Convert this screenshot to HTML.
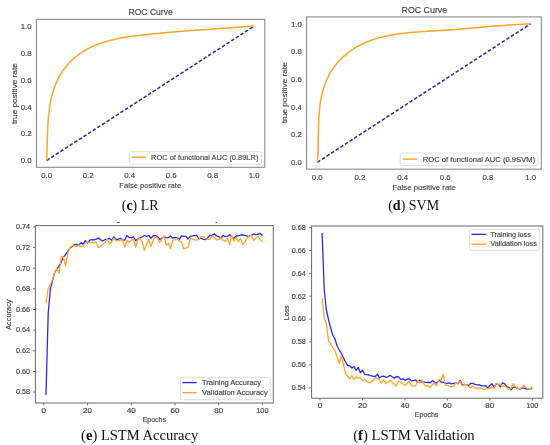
<!DOCTYPE html>
<html><head><meta charset="utf-8"><style>
html,body{margin:0;padding:0;background:#fff;}
body{width:550px;height:445px;overflow:hidden;}
svg{display:block;will-change:transform;}
</style></head><body>
<svg width="550" height="445" viewBox="0 0 550 445">
<defs><filter id="bl" x="0" y="0" width="550" height="445" filterUnits="userSpaceOnUse"><feGaussianBlur stdDeviation="0.3"/></filter></defs>
<rect width="550" height="445" fill="#fff"/>
<g filter="url(#bl)">
<rect x="36.5" y="19.4" width="228.3" height="147.9" fill="none" stroke="#8a8a8a" stroke-width="1.1"/>
<line x1="46.6" y1="160.6" x2="254.1" y2="26.099999999999994" stroke="#2626aa" stroke-width="1.5" stroke-dasharray="3.5,2.0"/>
<polyline points="46.60,160.60 46.67,159.55 46.73,158.49 46.78,157.43 46.84,156.35 46.89,155.28 46.93,154.19 46.97,153.10 47.01,152.00 47.05,150.90 47.09,149.79 47.12,148.68 47.15,147.56 47.18,146.44 47.21,145.31 47.24,144.17 47.27,143.04 47.29,141.90 47.32,140.75 47.35,139.60 47.38,138.45 47.41,137.30 47.44,136.14 47.48,134.98 47.51,133.82 47.55,132.65 47.60,131.48 47.64,130.31 47.69,129.14 47.74,127.97 47.80,126.80 47.86,125.63 47.92,124.45 47.99,123.28 48.06,122.10 48.14,120.93 48.23,119.76 48.32,118.58 48.42,117.41 48.53,116.24 48.64,115.07 48.76,113.90 48.89,112.73 49.02,111.56 49.17,110.40 49.32,109.24 49.48,108.08 49.65,106.92 49.83,105.77 50.02,104.62 50.23,103.47 50.44,102.33 50.66,101.19 50.89,100.06 51.14,98.93 51.39,97.80 51.66,96.68 51.94,95.56 52.24,94.45 52.54,93.35 52.86,92.25 53.20,91.15 53.54,90.07 53.90,88.99 54.27,87.91 54.66,86.84 55.06,85.78 55.48,84.73 55.91,83.68 56.35,82.65 56.81,81.61 57.28,80.59 57.77,79.58 58.27,78.57 58.79,77.58 59.32,76.59 59.87,75.61 60.44,74.64 61.01,73.69 61.61,72.74 62.22,71.80 62.85,70.87 63.49,69.95 64.14,69.05 64.82,68.15 65.50,67.27 66.20,66.40 66.92,65.54 67.64,64.69 68.39,63.85 69.14,63.03 69.91,62.22 70.69,61.42 71.48,60.63 72.29,59.86 73.10,59.10 73.93,58.36 74.77,57.63 75.62,56.91 76.49,56.21 77.36,55.52 78.24,54.85 79.13,54.19 80.04,53.55 80.95,52.93 81.87,52.31 82.80,51.72 83.74,51.13 84.69,50.56 85.64,50.01 86.61,49.47 87.58,48.94 88.57,48.42 89.56,47.92 90.56,47.43 91.56,46.95 92.57,46.49 93.59,46.03 94.62,45.59 95.66,45.16 96.70,44.75 97.74,44.34 98.80,43.95 99.86,43.56 100.93,43.19 102.00,42.82 103.08,42.47 104.16,42.13 105.25,41.79 106.34,41.47 107.44,41.16 108.54,40.85 109.65,40.56 110.76,40.27 111.88,39.99 113.00,39.72 114.13,39.46 115.25,39.20 116.39,38.95 117.52,38.71 118.66,38.48 119.80,38.26 120.94,38.04 122.09,37.83 123.24,37.62 124.39,37.42 125.55,37.23 126.70,37.04 127.86,36.86 129.02,36.68 130.18,36.51 131.34,36.34 132.50,36.18 133.66,36.02 134.83,35.87 135.99,35.72 137.16,35.58 138.32,35.43 139.49,35.30 140.65,35.16 141.82,35.03 142.98,34.90 144.14,34.77 145.30,34.65 146.47,34.53 147.62,34.40 148.78,34.29 149.94,34.17 151.09,34.05 152.25,33.94 153.40,33.83 154.55,33.71 155.69,33.60 156.84,33.49 157.98,33.38 159.13,33.28 160.27,33.17 161.41,33.06 162.54,32.96 163.68,32.85 164.82,32.75 165.95,32.65 167.08,32.55 168.21,32.45 169.34,32.35 170.47,32.25 171.60,32.16 172.73,32.06 173.85,31.97 174.98,31.87 176.10,31.78 177.23,31.68 178.35,31.59 179.47,31.50 180.59,31.41 181.71,31.32 182.83,31.23 183.95,31.14 185.07,31.05 186.19,30.97 187.30,30.88 188.42,30.79 189.54,30.71 190.66,30.62 191.77,30.54 192.89,30.45 194.00,30.37 195.12,30.29 196.24,30.20 197.35,30.12 198.47,30.04 199.58,29.96 200.70,29.88 201.81,29.80 202.93,29.72 204.05,29.64 205.16,29.56 206.28,29.48 207.40,29.40 208.52,29.32 209.63,29.24 210.75,29.16 211.87,29.08 212.99,29.00 214.11,28.92 215.23,28.85 216.36,28.77 217.48,28.69 218.60,28.61 219.73,28.53 220.85,28.45 221.98,28.38 223.11,28.30 224.24,28.22 225.37,28.14 226.50,28.06 227.63,27.98 228.76,27.91 229.90,27.83 231.03,27.75 232.17,27.67 233.31,27.59 234.45,27.51 235.59,27.43 236.73,27.35 237.88,27.27 239.02,27.19 240.17,27.11 241.32,27.03 242.47,26.94 243.63,26.86 244.78,26.78 245.94,26.70 247.10,26.61 248.26,26.53 249.43,26.44 250.59,26.36 251.76,26.27 252.93,26.19 254.10,26.10" fill="none" stroke="#ffa626" stroke-width="1.5" stroke-linejoin="round"/>
<text x="150.60000000000002" y="15.3" font-size="8.9" text-anchor="middle" fill="#454545" font-family="Liberation Sans, sans-serif" stroke="#454545" stroke-width="0.16" textLength="44.2" lengthAdjust="spacingAndGlyphs" >ROC Curve</text>
<text x="31.6" y="163.29999999999998" font-size="8.1" text-anchor="end" fill="#454545" font-family="Liberation Sans, sans-serif" stroke="#454545" stroke-width="0.16" textLength="10.9" lengthAdjust="spacingAndGlyphs" >0.0</text>
<text x="31.6" y="136.39999999999998" font-size="8.1" text-anchor="end" fill="#454545" font-family="Liberation Sans, sans-serif" stroke="#454545" stroke-width="0.16" textLength="10.9" lengthAdjust="spacingAndGlyphs" >0.2</text>
<text x="31.6" y="109.49999999999999" font-size="8.1" text-anchor="end" fill="#454545" font-family="Liberation Sans, sans-serif" stroke="#454545" stroke-width="0.16" textLength="10.9" lengthAdjust="spacingAndGlyphs" >0.4</text>
<text x="31.6" y="82.59999999999998" font-size="8.1" text-anchor="end" fill="#454545" font-family="Liberation Sans, sans-serif" stroke="#454545" stroke-width="0.16" textLength="10.9" lengthAdjust="spacingAndGlyphs" >0.6</text>
<text x="31.6" y="55.69999999999999" font-size="8.1" text-anchor="end" fill="#454545" font-family="Liberation Sans, sans-serif" stroke="#454545" stroke-width="0.16" textLength="10.9" lengthAdjust="spacingAndGlyphs" >0.8</text>
<text x="31.6" y="28.799999999999994" font-size="8.1" text-anchor="end" fill="#454545" font-family="Liberation Sans, sans-serif" stroke="#454545" stroke-width="0.16" textLength="10.9" lengthAdjust="spacingAndGlyphs" >1.0</text>
<text x="46.6" y="177.5" font-size="8.1" text-anchor="middle" fill="#454545" font-family="Liberation Sans, sans-serif" stroke="#454545" stroke-width="0.16" textLength="10.9" lengthAdjust="spacingAndGlyphs" >0.0</text>
<text x="88.1" y="177.5" font-size="8.1" text-anchor="middle" fill="#454545" font-family="Liberation Sans, sans-serif" stroke="#454545" stroke-width="0.16" textLength="10.9" lengthAdjust="spacingAndGlyphs" >0.2</text>
<text x="129.6" y="177.5" font-size="8.1" text-anchor="middle" fill="#454545" font-family="Liberation Sans, sans-serif" stroke="#454545" stroke-width="0.16" textLength="10.9" lengthAdjust="spacingAndGlyphs" >0.4</text>
<text x="171.10000000000002" y="177.5" font-size="8.1" text-anchor="middle" fill="#454545" font-family="Liberation Sans, sans-serif" stroke="#454545" stroke-width="0.16" textLength="10.9" lengthAdjust="spacingAndGlyphs" >0.6</text>
<text x="212.6" y="177.5" font-size="8.1" text-anchor="middle" fill="#454545" font-family="Liberation Sans, sans-serif" stroke="#454545" stroke-width="0.16" textLength="10.9" lengthAdjust="spacingAndGlyphs" >0.8</text>
<text x="254.1" y="177.5" font-size="8.1" text-anchor="middle" fill="#454545" font-family="Liberation Sans, sans-serif" stroke="#454545" stroke-width="0.16" textLength="10.9" lengthAdjust="spacingAndGlyphs" >1.0</text>
<text x="150.25" y="187.5" font-size="8.0" text-anchor="middle" fill="#454545" font-family="Liberation Sans, sans-serif" stroke="#454545" stroke-width="0.16" textLength="61.9" lengthAdjust="spacingAndGlyphs" >False positive rate</text>
<text x="0" y="0" font-size="8.0" text-anchor="middle" fill="#454545" font-family="Liberation Sans, sans-serif" stroke="#454545" stroke-width="0.16" textLength="60.7" lengthAdjust="spacingAndGlyphs" transform="translate(17.099999999999998,93.6) rotate(-90)">true positive rate</text>
<rect x="129.3" y="151.6" width="132.09999999999997" height="12.700000000000017" rx="1.5" fill="#fff" stroke="#dcdcdc" stroke-width="0.9"/>
<line x1="131.6" y1="157.3" x2="145.9" y2="157.3" stroke="#ffa626" stroke-width="1.5"/>
<text x="151.1" y="160.0" font-size="8.0" text-anchor="start" fill="#454545" font-family="Liberation Sans, sans-serif" stroke="#454545" stroke-width="0.16" textLength="107.3" lengthAdjust="spacingAndGlyphs" >ROC of functional AUC (0.89LR)</text>
<text x="121.8" y="210.2" font-size="14.5" fill="#111" font-family="Liberation Serif, serif" textLength="36.7" lengthAdjust="spacingAndGlyphs">(<tspan font-weight="bold">c</tspan>) LR</text>
<rect x="306.6" y="16.9" width="234.69999999999993" height="152.29999999999998" fill="none" stroke="#8a8a8a" stroke-width="1.1"/>
<line x1="317.3" y1="162.3" x2="530.6" y2="23.80000000000001" stroke="#2626aa" stroke-width="1.5" stroke-dasharray="3.5,2.0"/>
<polyline points="317.30,162.30 317.40,161.19 317.50,160.07 317.58,158.94 317.66,157.81 317.74,156.67 317.80,155.53 317.86,154.38 317.92,153.23 317.97,152.07 318.01,150.90 318.05,149.74 318.09,148.56 318.12,147.39 318.15,146.21 318.18,145.03 318.20,143.84 318.22,142.65 318.25,141.45 318.26,140.26 318.28,139.06 318.30,137.86 318.32,136.65 318.33,135.45 318.35,134.24 318.37,133.03 318.39,131.82 318.41,130.61 318.44,129.40 318.46,128.19 318.49,126.97 318.53,125.76 318.56,124.54 318.61,123.33 318.65,122.12 318.70,120.90 318.76,119.69 318.82,118.48 318.89,117.27 318.96,116.06 319.04,114.85 319.13,113.65 319.22,112.44 319.33,111.24 319.44,110.04 319.56,108.84 319.69,107.65 319.83,106.46 319.98,105.27 320.14,104.09 320.31,102.91 320.49,101.73 320.68,100.56 320.89,99.39 321.11,98.23 321.34,97.07 321.58,95.91 321.84,94.76 322.11,93.62 322.39,92.48 322.69,91.35 323.00,90.22 323.33,89.10 323.67,87.98 324.03,86.88 324.40,85.78 324.78,84.68 325.18,83.59 325.60,82.52 326.03,81.44 326.48,80.38 326.94,79.32 327.42,78.27 327.92,77.24 328.43,76.20 328.96,75.18 329.50,74.17 330.06,73.17 330.64,72.17 331.24,71.19 331.85,70.21 332.48,69.25 333.13,68.29 333.80,67.35 334.48,66.42 335.19,65.50 335.90,64.58 336.64,63.69 337.39,62.80 338.16,61.92 338.94,61.06 339.74,60.21 340.55,59.37 341.38,58.54 342.22,57.72 343.08,56.92 343.94,56.14 344.82,55.36 345.71,54.60 346.62,53.85 347.53,53.12 348.46,52.40 349.39,51.70 350.34,51.01 351.30,50.33 352.26,49.67 353.23,49.03 354.22,48.40 355.21,47.79 356.20,47.19 357.21,46.61 358.22,46.04 359.24,45.49 360.27,44.96 361.30,44.43 362.35,43.93 363.39,43.43 364.45,42.95 365.51,42.49 366.57,42.04 367.65,41.60 368.73,41.17 369.81,40.76 370.90,40.36 372.00,39.97 373.10,39.59 374.21,39.23 375.32,38.87 376.44,38.53 377.56,38.20 378.69,37.88 379.82,37.57 380.96,37.27 382.10,36.99 383.24,36.71 384.39,36.44 385.55,36.18 386.70,35.93 387.86,35.69 389.03,35.45 390.20,35.23 391.37,35.02 392.54,34.81 393.72,34.61 394.90,34.42 396.08,34.23 397.27,34.05 398.46,33.88 399.65,33.72 400.84,33.56 402.03,33.41 403.23,33.27 404.43,33.13 405.63,32.99 406.83,32.86 408.03,32.74 409.24,32.62 410.44,32.51 411.65,32.40 412.86,32.29 414.06,32.19 415.27,32.09 416.48,32.00 417.69,31.91 418.90,31.82 420.11,31.73 421.32,31.65 422.53,31.57 423.74,31.49 424.95,31.41 426.15,31.34 427.36,31.26 428.57,31.19 429.77,31.12 430.97,31.05 432.18,30.98 433.38,30.90 434.58,30.83 435.77,30.76 436.97,30.69 438.16,30.62 439.35,30.54 440.54,30.47 441.73,30.39 442.91,30.32 444.09,30.24 445.27,30.16 446.45,30.07 447.63,29.99 448.80,29.91 449.97,29.82 451.14,29.74 452.31,29.65 453.48,29.56 454.64,29.47 455.81,29.38 456.97,29.29 458.13,29.20 459.29,29.11 460.44,29.01 461.60,28.92 462.76,28.82 463.91,28.73 465.07,28.63 466.22,28.54 467.37,28.44 468.52,28.34 469.67,28.25 470.83,28.15 471.98,28.05 473.13,27.95 474.27,27.85 475.42,27.75 476.57,27.66 477.72,27.56 478.87,27.46 480.02,27.36 481.17,27.26 482.32,27.16 483.47,27.06 484.62,26.97 485.77,26.87 486.92,26.77 488.07,26.67 489.23,26.58 490.38,26.48 491.53,26.38 492.69,26.29 493.84,26.19 495.00,26.10 496.16,26.01 497.32,25.91 498.48,25.82 499.64,25.73 500.81,25.64 501.97,25.55 503.14,25.46 504.31,25.38 505.48,25.29 506.65,25.20 507.83,25.12 509.00,25.04 510.18,24.96 511.36,24.88 512.54,24.80 513.73,24.72 514.91,24.64 516.10,24.57 517.30,24.49 518.49,24.42 519.69,24.35 520.89,24.28 522.09,24.22 523.30,24.15 524.51,24.09 525.72,24.03 526.94,23.97 528.15,23.91 529.38,23.85 530.60,23.80" fill="none" stroke="#ffa626" stroke-width="1.5" stroke-linejoin="round"/>
<text x="424.35" y="12.6" font-size="8.9" text-anchor="middle" fill="#454545" font-family="Liberation Sans, sans-serif" stroke="#454545" stroke-width="0.16" textLength="45.7" lengthAdjust="spacingAndGlyphs" >ROC Curve</text>
<text x="301.9" y="165.0" font-size="8.1" text-anchor="end" fill="#454545" font-family="Liberation Sans, sans-serif" stroke="#454545" stroke-width="0.16" textLength="10.9" lengthAdjust="spacingAndGlyphs" >0.0</text>
<text x="301.9" y="137.3" font-size="8.1" text-anchor="end" fill="#454545" font-family="Liberation Sans, sans-serif" stroke="#454545" stroke-width="0.16" textLength="10.9" lengthAdjust="spacingAndGlyphs" >0.2</text>
<text x="301.9" y="109.60000000000001" font-size="8.1" text-anchor="end" fill="#454545" font-family="Liberation Sans, sans-serif" stroke="#454545" stroke-width="0.16" textLength="10.9" lengthAdjust="spacingAndGlyphs" >0.4</text>
<text x="301.9" y="81.9" font-size="8.1" text-anchor="end" fill="#454545" font-family="Liberation Sans, sans-serif" stroke="#454545" stroke-width="0.16" textLength="10.9" lengthAdjust="spacingAndGlyphs" >0.6</text>
<text x="301.9" y="54.2" font-size="8.1" text-anchor="end" fill="#454545" font-family="Liberation Sans, sans-serif" stroke="#454545" stroke-width="0.16" textLength="10.9" lengthAdjust="spacingAndGlyphs" >0.8</text>
<text x="301.9" y="26.50000000000001" font-size="8.1" text-anchor="end" fill="#454545" font-family="Liberation Sans, sans-serif" stroke="#454545" stroke-width="0.16" textLength="10.9" lengthAdjust="spacingAndGlyphs" >1.0</text>
<text x="317.3" y="179.6" font-size="8.1" text-anchor="middle" fill="#454545" font-family="Liberation Sans, sans-serif" stroke="#454545" stroke-width="0.16" textLength="10.9" lengthAdjust="spacingAndGlyphs" >0.0</text>
<text x="359.96000000000004" y="179.6" font-size="8.1" text-anchor="middle" fill="#454545" font-family="Liberation Sans, sans-serif" stroke="#454545" stroke-width="0.16" textLength="10.9" lengthAdjust="spacingAndGlyphs" >0.2</text>
<text x="402.62" y="179.6" font-size="8.1" text-anchor="middle" fill="#454545" font-family="Liberation Sans, sans-serif" stroke="#454545" stroke-width="0.16" textLength="10.9" lengthAdjust="spacingAndGlyphs" >0.4</text>
<text x="445.28000000000003" y="179.6" font-size="8.1" text-anchor="middle" fill="#454545" font-family="Liberation Sans, sans-serif" stroke="#454545" stroke-width="0.16" textLength="10.9" lengthAdjust="spacingAndGlyphs" >0.6</text>
<text x="487.94000000000005" y="179.6" font-size="8.1" text-anchor="middle" fill="#454545" font-family="Liberation Sans, sans-serif" stroke="#454545" stroke-width="0.16" textLength="10.9" lengthAdjust="spacingAndGlyphs" >0.8</text>
<text x="530.6" y="179.6" font-size="8.1" text-anchor="middle" fill="#454545" font-family="Liberation Sans, sans-serif" stroke="#454545" stroke-width="0.16" textLength="10.9" lengthAdjust="spacingAndGlyphs" >1.0</text>
<text x="424.1" y="190.0" font-size="8.0" text-anchor="middle" fill="#454545" font-family="Liberation Sans, sans-serif" stroke="#454545" stroke-width="0.16" textLength="63.4" lengthAdjust="spacingAndGlyphs" >False positive rate</text>
<text x="0" y="0" font-size="8.0" text-anchor="middle" fill="#454545" font-family="Liberation Sans, sans-serif" stroke="#454545" stroke-width="0.16" textLength="61.0" lengthAdjust="spacingAndGlyphs" transform="translate(286.9,92.75) rotate(-90)">true positive rate</text>
<rect x="400.2" y="153.0" width="137.59999999999997" height="12.599999999999994" rx="1.5" fill="#fff" stroke="#dcdcdc" stroke-width="0.9"/>
<line x1="402.6" y1="159.1" x2="417.3" y2="159.1" stroke="#ffa626" stroke-width="1.5"/>
<text x="422.7" y="161.79999999999998" font-size="8.0" text-anchor="start" fill="#454545" font-family="Liberation Sans, sans-serif" stroke="#454545" stroke-width="0.16" textLength="112.5" lengthAdjust="spacingAndGlyphs" >ROC of functional AUC (0.9SVM)</text>
<text x="388.2" y="210.2" font-size="14.5" fill="#111" font-family="Liberation Serif, serif" textLength="50.9" lengthAdjust="spacingAndGlyphs">(<tspan font-weight="bold">d</tspan>) SVM</text>
<rect x="35.4" y="225.6" width="237.9" height="177.4" fill="none" stroke="#6a6a6a" stroke-width="1.0"/>
<line x1="33.0" y1="392.1" x2="35.4" y2="392.1" stroke="#6a6a6a" stroke-width="0.9"/>
<text x="29.9" y="394.40000000000003" font-size="6.9" text-anchor="end" fill="#454545" font-family="Liberation Sans, sans-serif" stroke="#454545" stroke-width="0.16" textLength="14.0" lengthAdjust="spacingAndGlyphs" >0.58</text>
<line x1="33.0" y1="371.45000000000005" x2="35.4" y2="371.45000000000005" stroke="#6a6a6a" stroke-width="0.9"/>
<text x="29.9" y="373.75000000000006" font-size="6.9" text-anchor="end" fill="#454545" font-family="Liberation Sans, sans-serif" stroke="#454545" stroke-width="0.16" textLength="14.0" lengthAdjust="spacingAndGlyphs" >0.60</text>
<line x1="33.0" y1="350.8" x2="35.4" y2="350.8" stroke="#6a6a6a" stroke-width="0.9"/>
<text x="29.9" y="353.1" font-size="6.9" text-anchor="end" fill="#454545" font-family="Liberation Sans, sans-serif" stroke="#454545" stroke-width="0.16" textLength="14.0" lengthAdjust="spacingAndGlyphs" >0.62</text>
<line x1="33.0" y1="330.15000000000003" x2="35.4" y2="330.15000000000003" stroke="#6a6a6a" stroke-width="0.9"/>
<text x="29.9" y="332.45000000000005" font-size="6.9" text-anchor="end" fill="#454545" font-family="Liberation Sans, sans-serif" stroke="#454545" stroke-width="0.16" textLength="14.0" lengthAdjust="spacingAndGlyphs" >0.64</text>
<line x1="33.0" y1="309.5" x2="35.4" y2="309.5" stroke="#6a6a6a" stroke-width="0.9"/>
<text x="29.9" y="311.8" font-size="6.9" text-anchor="end" fill="#454545" font-family="Liberation Sans, sans-serif" stroke="#454545" stroke-width="0.16" textLength="14.0" lengthAdjust="spacingAndGlyphs" >0.66</text>
<line x1="33.0" y1="288.85" x2="35.4" y2="288.85" stroke="#6a6a6a" stroke-width="0.9"/>
<text x="29.9" y="291.15000000000003" font-size="6.9" text-anchor="end" fill="#454545" font-family="Liberation Sans, sans-serif" stroke="#454545" stroke-width="0.16" textLength="14.0" lengthAdjust="spacingAndGlyphs" >0.68</text>
<line x1="33.0" y1="268.20000000000005" x2="35.4" y2="268.20000000000005" stroke="#6a6a6a" stroke-width="0.9"/>
<text x="29.9" y="270.50000000000006" font-size="6.9" text-anchor="end" fill="#454545" font-family="Liberation Sans, sans-serif" stroke="#454545" stroke-width="0.16" textLength="14.0" lengthAdjust="spacingAndGlyphs" >0.70</text>
<line x1="33.0" y1="247.55000000000004" x2="35.4" y2="247.55000000000004" stroke="#6a6a6a" stroke-width="0.9"/>
<text x="29.9" y="249.85000000000005" font-size="6.9" text-anchor="end" fill="#454545" font-family="Liberation Sans, sans-serif" stroke="#454545" stroke-width="0.16" textLength="14.0" lengthAdjust="spacingAndGlyphs" >0.72</text>
<line x1="33.0" y1="226.90000000000003" x2="35.4" y2="226.90000000000003" stroke="#6a6a6a" stroke-width="0.9"/>
<text x="29.9" y="229.20000000000005" font-size="6.9" text-anchor="end" fill="#454545" font-family="Liberation Sans, sans-serif" stroke="#454545" stroke-width="0.16" textLength="14.0" lengthAdjust="spacingAndGlyphs" >0.74</text>
<line x1="43.8" y1="403.0" x2="43.8" y2="405.4" stroke="#6a6a6a" stroke-width="0.9"/>
<text x="43.8" y="412.6" font-size="6.9" text-anchor="middle" fill="#454545" font-family="Liberation Sans, sans-serif" stroke="#454545" stroke-width="0.16" textLength="4.6" lengthAdjust="spacingAndGlyphs" >0</text>
<line x1="87.51999999999998" y1="403.0" x2="87.51999999999998" y2="405.4" stroke="#6a6a6a" stroke-width="0.9"/>
<text x="87.51999999999998" y="412.6" font-size="6.9" text-anchor="middle" fill="#454545" font-family="Liberation Sans, sans-serif" stroke="#454545" stroke-width="0.16" textLength="9.0" lengthAdjust="spacingAndGlyphs" >20</text>
<line x1="131.23999999999998" y1="403.0" x2="131.23999999999998" y2="405.4" stroke="#6a6a6a" stroke-width="0.9"/>
<text x="131.23999999999998" y="412.6" font-size="6.9" text-anchor="middle" fill="#454545" font-family="Liberation Sans, sans-serif" stroke="#454545" stroke-width="0.16" textLength="9.0" lengthAdjust="spacingAndGlyphs" >40</text>
<line x1="174.95999999999998" y1="403.0" x2="174.95999999999998" y2="405.4" stroke="#6a6a6a" stroke-width="0.9"/>
<text x="174.95999999999998" y="412.6" font-size="6.9" text-anchor="middle" fill="#454545" font-family="Liberation Sans, sans-serif" stroke="#454545" stroke-width="0.16" textLength="9.0" lengthAdjust="spacingAndGlyphs" >60</text>
<line x1="218.67999999999995" y1="403.0" x2="218.67999999999995" y2="405.4" stroke="#6a6a6a" stroke-width="0.9"/>
<text x="218.67999999999995" y="412.6" font-size="6.9" text-anchor="middle" fill="#454545" font-family="Liberation Sans, sans-serif" stroke="#454545" stroke-width="0.16" textLength="9.0" lengthAdjust="spacingAndGlyphs" >80</text>
<line x1="262.4" y1="403.0" x2="262.4" y2="405.4" stroke="#6a6a6a" stroke-width="0.9"/>
<text x="262.4" y="412.6" font-size="6.9" text-anchor="middle" fill="#454545" font-family="Liberation Sans, sans-serif" stroke="#454545" stroke-width="0.16" textLength="12.2" lengthAdjust="spacingAndGlyphs" >100</text>
<polyline points="45.99,395.00 48.17,314.00 50.36,289.00 52.54,280.30 54.73,272.20 56.92,268.80 59.10,266.00 61.29,262.00 63.47,257.10 65.66,254.40 67.85,251.20 70.03,248.10 72.22,246.50 74.40,244.50 76.59,244.40 78.78,245.30 80.96,242.60 83.15,244.10 85.33,240.60 87.52,243.00 89.71,240.20 91.89,239.60 94.08,239.80 96.26,239.20 98.45,237.90 100.64,239.80 102.82,241.00 105.01,239.40 107.19,239.40 109.38,238.20 111.57,240.20 113.75,236.80 115.94,239.40 118.12,239.40 120.31,238.20 122.50,239.80 124.68,240.20 126.87,235.50 129.05,237.40 131.24,237.80 133.43,236.80 135.61,240.60 137.80,239.00 139.98,237.80 142.17,237.00 144.36,235.50 146.54,236.30 148.73,235.50 150.91,238.20 153.10,235.90 155.29,235.50 157.47,236.60 159.66,239.40 161.84,238.20 164.03,236.60 166.22,237.80 168.40,237.60 170.59,235.90 172.77,238.20 174.96,237.40 177.15,237.80 179.33,239.40 181.52,235.90 183.70,236.30 185.89,236.30 188.08,239.00 190.26,236.30 192.45,235.90 194.63,235.60 196.82,235.50 199.01,239.00 201.19,238.20 203.38,239.40 205.56,239.60 207.75,237.80 209.94,235.50 212.12,235.10 214.31,233.90 216.49,235.90 218.68,236.60 220.87,238.20 223.05,235.50 225.24,236.60 227.42,236.30 229.61,234.70 231.80,236.60 233.98,238.20 236.17,236.00 238.35,235.80 240.54,235.00 242.73,235.00 244.91,235.40 247.10,236.10 249.28,235.80 251.47,235.40 253.66,233.80 255.84,235.00 258.03,234.20 260.21,233.40 262.40,235.40" fill="none" stroke="#2a2aff" stroke-width="1.3" stroke-linejoin="round"/>
<polyline points="45.99,303.70 48.17,288.50 50.36,284.50 52.54,279.60 54.73,272.00 56.92,268.60 59.10,273.30 61.29,256.50 63.47,257.30 65.66,266.00 67.85,252.50 70.03,247.50 72.22,245.50 74.40,245.50 76.59,246.90 78.78,244.90 80.96,246.90 83.15,246.10 85.33,243.00 87.52,241.80 89.71,242.60 91.89,242.80 94.08,242.60 96.26,242.20 98.45,247.70 100.64,246.10 102.82,244.50 105.01,242.50 107.19,239.00 109.38,244.10 111.57,241.80 113.75,238.20 115.94,240.60 118.12,241.00 120.31,240.20 122.50,239.80 124.68,247.30 126.87,240.60 129.05,242.10 131.24,240.80 133.43,238.40 135.61,247.00 137.80,239.80 139.98,238.20 142.17,241.80 144.36,250.40 146.54,244.50 148.73,239.40 150.91,246.50 153.10,240.20 155.29,237.40 157.47,237.80 159.66,242.50 161.84,239.00 164.03,235.90 166.22,245.30 168.40,243.30 170.59,248.80 172.77,240.20 174.96,239.80 177.15,238.60 179.33,241.00 181.52,241.80 183.70,248.80 185.89,248.00 188.08,247.60 190.26,238.60 192.45,239.00 194.63,239.80 196.82,240.20 199.01,239.00 201.19,236.30 203.38,236.80 205.56,238.60 207.75,239.40 209.94,239.40 212.12,235.90 214.31,237.40 216.49,240.20 218.68,239.40 220.87,237.80 223.05,240.20 225.24,241.40 227.42,238.20 229.61,244.50 231.80,235.50 233.98,241.00 236.17,237.30 238.35,242.00 240.54,238.50 242.73,244.40 244.91,242.00 247.10,238.50 249.28,235.00 251.47,235.80 253.66,240.50 255.84,238.10 258.03,236.50 260.21,239.70 262.40,242.00" fill="none" stroke="#ffa626" stroke-width="1.3" stroke-linejoin="round"/>
<text x="154.35000000000002" y="421.6" font-size="6.9" text-anchor="middle" fill="#454545" font-family="Liberation Sans, sans-serif" stroke="#454545" stroke-width="0.16" textLength="23.3" lengthAdjust="spacingAndGlyphs" >Epochs</text>
<text x="0" y="0" font-size="6.9" text-anchor="middle" fill="#454545" font-family="Liberation Sans, sans-serif" stroke="#454545" stroke-width="0.16" textLength="30.3" lengthAdjust="spacingAndGlyphs" transform="translate(11.2,314.65) rotate(-90)">Accuracy</text>
<rect x="180.5" y="377.4" width="89.69999999999999" height="22.30000000000001" rx="1.5" fill="#fff" stroke="#dcdcdc" stroke-width="0.9"/>
<line x1="182.4" y1="382.6" x2="196.7" y2="382.6" stroke="#2a2aff" stroke-width="1.3"/>
<line x1="182.4" y1="392.7" x2="196.7" y2="392.7" stroke="#ffa626" stroke-width="1.3"/>
<text x="202.1" y="384.8" font-size="6.9" text-anchor="start" fill="#454545" font-family="Liberation Sans, sans-serif" stroke="#454545" stroke-width="0.16" textLength="58.9" lengthAdjust="spacingAndGlyphs" >Training Accuracy</text>
<text x="202.1" y="394.9" font-size="6.9" text-anchor="start" fill="#454545" font-family="Liberation Sans, sans-serif" stroke="#454545" stroke-width="0.16" textLength="65.6" lengthAdjust="spacingAndGlyphs" >Validation Accuracy</text>
<text x="81.1" y="439.5" font-size="14.5" fill="#111" font-family="Liberation Serif, serif" textLength="117.2" lengthAdjust="spacingAndGlyphs">(<tspan font-weight="bold">e</tspan>) LSTM Accuracy</text>
<rect x="311.6" y="226.0" width="231.19999999999993" height="172.2" fill="none" stroke="#6a6a6a" stroke-width="1.0"/>
<line x1="309.20000000000005" y1="387.8" x2="311.6" y2="387.8" stroke="#6a6a6a" stroke-width="0.9"/>
<text x="305.8" y="390.1" font-size="6.9" text-anchor="end" fill="#454545" font-family="Liberation Sans, sans-serif" stroke="#454545" stroke-width="0.16" textLength="14.0" lengthAdjust="spacingAndGlyphs" >0.54</text>
<line x1="309.20000000000005" y1="364.90000000000003" x2="311.6" y2="364.90000000000003" stroke="#6a6a6a" stroke-width="0.9"/>
<text x="305.8" y="367.20000000000005" font-size="6.9" text-anchor="end" fill="#454545" font-family="Liberation Sans, sans-serif" stroke="#454545" stroke-width="0.16" textLength="14.0" lengthAdjust="spacingAndGlyphs" >0.56</text>
<line x1="309.20000000000005" y1="342.0" x2="311.6" y2="342.0" stroke="#6a6a6a" stroke-width="0.9"/>
<text x="305.8" y="344.3" font-size="6.9" text-anchor="end" fill="#454545" font-family="Liberation Sans, sans-serif" stroke="#454545" stroke-width="0.16" textLength="14.0" lengthAdjust="spacingAndGlyphs" >0.58</text>
<line x1="309.20000000000005" y1="319.1" x2="311.6" y2="319.1" stroke="#6a6a6a" stroke-width="0.9"/>
<text x="305.8" y="321.40000000000003" font-size="6.9" text-anchor="end" fill="#454545" font-family="Liberation Sans, sans-serif" stroke="#454545" stroke-width="0.16" textLength="14.0" lengthAdjust="spacingAndGlyphs" >0.60</text>
<line x1="309.20000000000005" y1="296.20000000000005" x2="311.6" y2="296.20000000000005" stroke="#6a6a6a" stroke-width="0.9"/>
<text x="305.8" y="298.50000000000006" font-size="6.9" text-anchor="end" fill="#454545" font-family="Liberation Sans, sans-serif" stroke="#454545" stroke-width="0.16" textLength="14.0" lengthAdjust="spacingAndGlyphs" >0.62</text>
<line x1="309.20000000000005" y1="273.3" x2="311.6" y2="273.3" stroke="#6a6a6a" stroke-width="0.9"/>
<text x="305.8" y="275.6" font-size="6.9" text-anchor="end" fill="#454545" font-family="Liberation Sans, sans-serif" stroke="#454545" stroke-width="0.16" textLength="14.0" lengthAdjust="spacingAndGlyphs" >0.64</text>
<line x1="309.20000000000005" y1="250.40000000000003" x2="311.6" y2="250.40000000000003" stroke="#6a6a6a" stroke-width="0.9"/>
<text x="305.8" y="252.70000000000005" font-size="6.9" text-anchor="end" fill="#454545" font-family="Liberation Sans, sans-serif" stroke="#454545" stroke-width="0.16" textLength="14.0" lengthAdjust="spacingAndGlyphs" >0.66</text>
<line x1="309.20000000000005" y1="227.50000000000003" x2="311.6" y2="227.50000000000003" stroke="#6a6a6a" stroke-width="0.9"/>
<text x="305.8" y="229.80000000000004" font-size="6.9" text-anchor="end" fill="#454545" font-family="Liberation Sans, sans-serif" stroke="#454545" stroke-width="0.16" textLength="14.0" lengthAdjust="spacingAndGlyphs" >0.68</text>
<line x1="320.0" y1="398.2" x2="320.0" y2="400.59999999999997" stroke="#6a6a6a" stroke-width="0.9"/>
<text x="320.0" y="408.0" font-size="6.9" text-anchor="middle" fill="#454545" font-family="Liberation Sans, sans-serif" stroke="#454545" stroke-width="0.16" textLength="4.6" lengthAdjust="spacingAndGlyphs" >0</text>
<line x1="362.46" y1="398.2" x2="362.46" y2="400.59999999999997" stroke="#6a6a6a" stroke-width="0.9"/>
<text x="362.46" y="408.0" font-size="6.9" text-anchor="middle" fill="#454545" font-family="Liberation Sans, sans-serif" stroke="#454545" stroke-width="0.16" textLength="9.0" lengthAdjust="spacingAndGlyphs" >20</text>
<line x1="404.91999999999996" y1="398.2" x2="404.91999999999996" y2="400.59999999999997" stroke="#6a6a6a" stroke-width="0.9"/>
<text x="404.91999999999996" y="408.0" font-size="6.9" text-anchor="middle" fill="#454545" font-family="Liberation Sans, sans-serif" stroke="#454545" stroke-width="0.16" textLength="9.0" lengthAdjust="spacingAndGlyphs" >40</text>
<line x1="447.38" y1="398.2" x2="447.38" y2="400.59999999999997" stroke="#6a6a6a" stroke-width="0.9"/>
<text x="447.38" y="408.0" font-size="6.9" text-anchor="middle" fill="#454545" font-family="Liberation Sans, sans-serif" stroke="#454545" stroke-width="0.16" textLength="9.0" lengthAdjust="spacingAndGlyphs" >60</text>
<line x1="489.84" y1="398.2" x2="489.84" y2="400.59999999999997" stroke="#6a6a6a" stroke-width="0.9"/>
<text x="489.84" y="408.0" font-size="6.9" text-anchor="middle" fill="#454545" font-family="Liberation Sans, sans-serif" stroke="#454545" stroke-width="0.16" textLength="9.0" lengthAdjust="spacingAndGlyphs" >80</text>
<line x1="532.3" y1="398.2" x2="532.3" y2="400.59999999999997" stroke="#6a6a6a" stroke-width="0.9"/>
<text x="532.3" y="408.0" font-size="6.9" text-anchor="middle" fill="#454545" font-family="Liberation Sans, sans-serif" stroke="#454545" stroke-width="0.16" textLength="12.2" lengthAdjust="spacingAndGlyphs" >100</text>
<polyline points="322.12,233.10 324.25,290.00 326.37,310.00 328.49,319.50 330.62,327.80 332.74,335.00 334.86,338.80 336.98,345.50 339.11,349.80 341.23,353.20 343.35,357.50 345.48,361.90 347.60,365.30 349.72,365.70 351.84,368.00 353.97,366.60 356.09,370.30 358.21,367.30 360.34,372.70 362.46,370.30 364.58,374.30 366.71,374.70 368.83,375.00 370.95,375.70 373.07,376.30 375.20,376.50 377.32,374.20 379.44,377.80 381.57,376.50 383.69,376.10 385.81,377.30 387.94,376.80 390.06,375.30 392.18,376.80 394.30,378.30 396.43,376.50 398.55,376.80 400.67,379.30 402.80,378.80 404.92,380.30 407.04,379.30 409.17,378.70 411.29,380.80 413.41,380.60 415.53,379.80 417.66,382.30 419.78,380.30 421.90,382.10 424.03,382.10 426.15,382.30 428.27,382.50 430.40,382.50 432.52,380.60 434.64,382.30 436.76,382.80 438.89,380.30 441.01,382.10 443.13,382.10 445.26,383.00 447.38,383.30 449.50,382.80 451.63,383.80 453.75,383.30 455.87,382.80 458.00,383.80 460.12,380.30 462.24,384.80 464.36,384.30 466.49,384.80 468.61,385.40 470.73,383.30 472.86,383.30 474.98,384.30 477.10,384.80 479.22,384.80 481.35,385.90 483.47,385.90 485.59,385.60 487.72,387.90 489.84,385.40 491.96,383.80 494.09,386.90 496.21,383.80 498.33,384.30 500.45,386.90 502.58,382.80 504.70,383.80 506.82,386.70 508.95,387.50 511.07,389.90 513.19,387.20 515.32,387.20 517.44,388.20 519.56,389.30 521.68,388.20 523.81,388.20 525.93,388.80 528.05,389.10 530.18,388.80 532.30,388.40" fill="none" stroke="#2a2aff" stroke-width="1.3" stroke-linejoin="round"/>
<polyline points="322.12,298.10 324.25,317.70 326.37,323.80 328.49,340.40 330.62,343.80 332.74,347.80 334.86,350.50 336.98,356.50 339.11,363.30 341.23,356.50 343.35,364.00 345.48,373.40 347.60,376.10 349.72,378.80 351.84,375.40 353.97,379.40 356.09,376.80 358.21,377.80 360.34,377.80 362.46,380.80 364.58,379.40 366.71,381.50 368.83,382.80 370.95,382.20 373.07,380.60 375.20,377.30 377.32,378.30 379.44,380.30 381.57,383.30 383.69,379.30 385.81,383.80 387.94,382.30 390.06,380.30 392.18,382.30 394.30,384.30 396.43,385.90 398.55,380.80 400.67,382.10 402.80,383.80 404.92,385.40 407.04,383.80 409.17,381.50 411.29,385.40 413.41,386.40 415.53,385.90 417.66,380.80 419.78,382.80 421.90,379.80 424.03,384.30 426.15,386.20 428.27,385.90 430.40,387.40 432.52,384.30 434.64,383.30 436.76,385.90 438.89,379.30 441.01,380.50 443.13,374.20 445.26,384.80 447.38,385.40 449.50,386.40 451.63,386.90 453.75,385.90 455.87,382.80 458.00,383.30 460.12,381.30 462.24,385.90 464.36,384.30 466.49,384.80 468.61,386.90 470.73,387.90 472.86,385.90 474.98,387.90 477.10,388.90 479.22,387.60 481.35,388.40 483.47,389.40 485.59,389.20 487.72,388.90 489.84,388.40 491.96,387.40 494.09,388.40 496.21,383.30 498.33,384.80 500.45,383.80 502.58,386.40 504.70,385.90 506.82,387.70 508.95,389.10 511.07,388.50 513.19,383.60 515.32,386.50 517.44,388.20 519.56,389.30 521.68,387.60 523.81,385.70 525.93,387.60 528.05,388.80 530.18,388.80 532.30,386.50" fill="none" stroke="#ffa626" stroke-width="1.3" stroke-linejoin="round"/>
<text x="426.6" y="416.6" font-size="6.9" text-anchor="middle" fill="#454545" font-family="Liberation Sans, sans-serif" stroke="#454545" stroke-width="0.16" textLength="23.6" lengthAdjust="spacingAndGlyphs" >Epochs</text>
<text x="0" y="0" font-size="6.9" text-anchor="middle" fill="#454545" font-family="Liberation Sans, sans-serif" stroke="#454545" stroke-width="0.16" textLength="14.9" lengthAdjust="spacingAndGlyphs" transform="translate(288.6,312.85) rotate(-90)">Loss</text>
<rect x="469.7" y="229.5" width="69.90000000000003" height="20.69999999999999" rx="1.5" fill="#fff" stroke="#dcdcdc" stroke-width="0.9"/>
<line x1="471.4" y1="234.3" x2="486.1" y2="234.3" stroke="#2a2aff" stroke-width="1.3"/>
<line x1="471.4" y1="244.2" x2="486.1" y2="244.2" stroke="#ffa626" stroke-width="1.3"/>
<text x="490.4" y="236.5" font-size="6.9" text-anchor="start" fill="#454545" font-family="Liberation Sans, sans-serif" stroke="#454545" stroke-width="0.16" textLength="40.4" lengthAdjust="spacingAndGlyphs" >Training loss</text>
<text x="490.4" y="246.39999999999998" font-size="6.9" text-anchor="start" fill="#454545" font-family="Liberation Sans, sans-serif" stroke="#454545" stroke-width="0.16" textLength="46.4" lengthAdjust="spacingAndGlyphs" >Validation loss</text>
<text x="353.2" y="439.5" font-size="14.5" fill="#111" font-family="Liberation Serif, serif" textLength="121.5" lengthAdjust="spacingAndGlyphs">(<tspan font-weight="bold">f</tspan>) LSTM Validation</text>
<rect x="116.9" y="221.9" width="3" height="1.2" rx="0.6" fill="#555"/>
<rect x="215.5" y="221.8" width="1.6" height="1.4" rx="0.7" fill="#555"/>
</g>
</svg>
</body></html>
